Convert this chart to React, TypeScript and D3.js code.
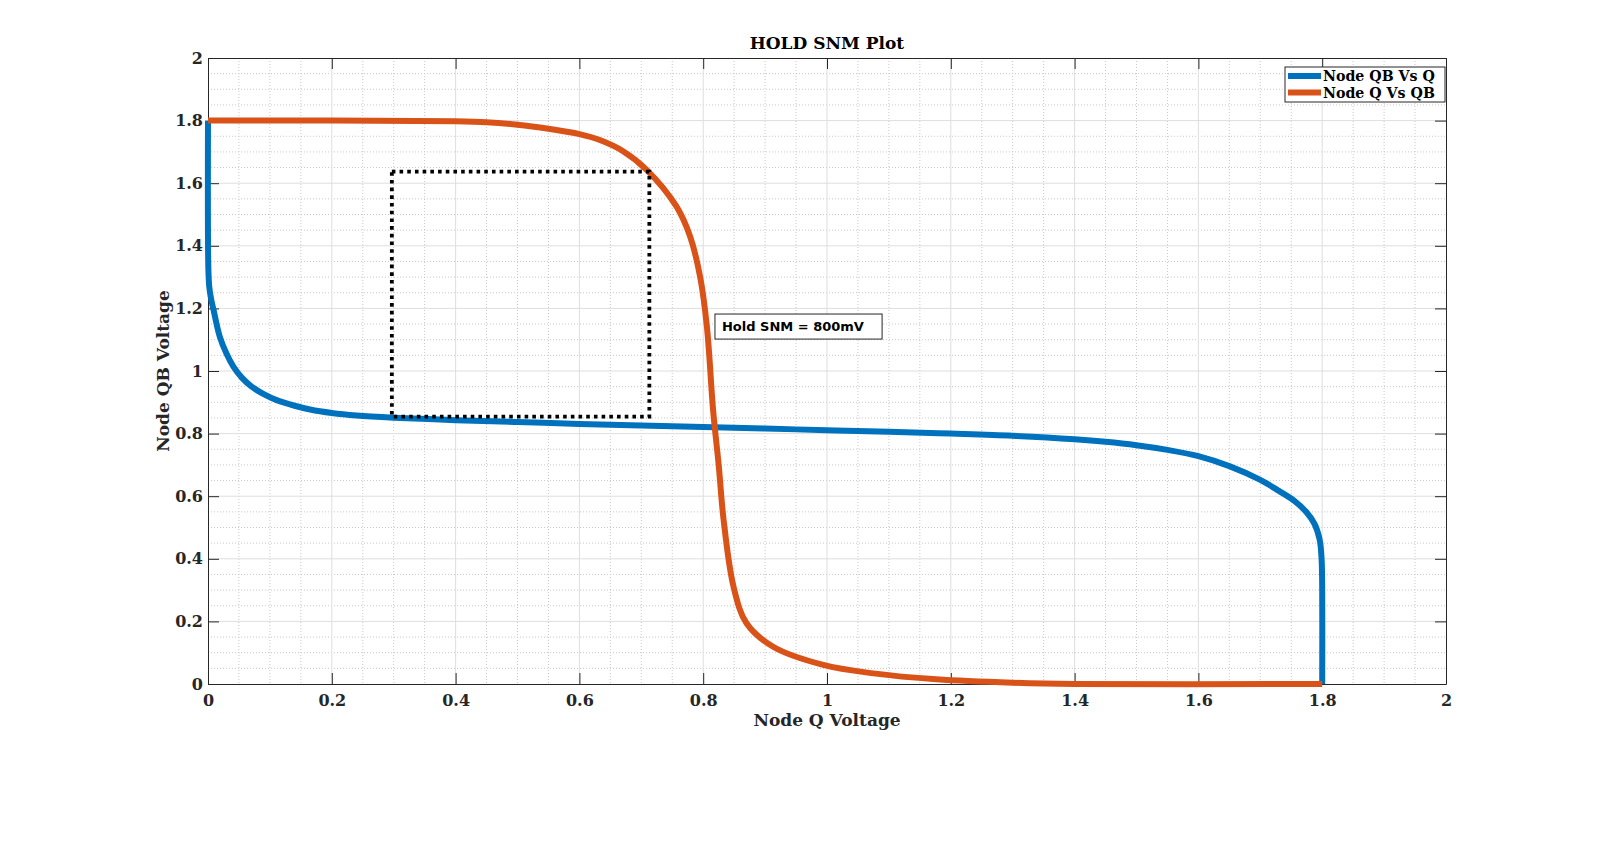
import React from 'react';
import * as d3 from 'd3';

const useD3 = (renderChart: any, dependencies: any[]) => {
  const ref = React.useRef<SVGSVGElement>(null);

  React.useEffect(() => {
    renderChart(d3.select(ref.current));
  }, dependencies);

  return ref;
};

// Node QB vs Q (blue)
const qbVsQ_x = [
  0, 0.0005, 0.002, 0.005, 0.009, 0.019, 0.03, 0.041, 0.055, 0.07, 0.09, 0.111,
  0.14, 0.165, 0.2, 0.24, 0.3, 0.4, 0.5, 0.6, 0.7, 0.8, 0.9, 1.0, 1.1, 1.2, 1.3,
  1.4, 1.45, 1.5, 1.55, 1.6, 1.65, 1.7, 1.73, 1.755, 1.775, 1.788, 1.796, 1.799,
  1.8, 1.8,
];
const qbVsQ_y = [
  1.8, 1.333, 1.27, 1.23, 1.195, 1.11, 1.055, 1.014, 0.978, 0.951, 0.926, 0.907,
  0.889, 0.877, 0.866, 0.858, 0.851, 0.843, 0.837, 0.831, 0.826, 0.821, 0.816,
  0.811, 0.806, 0.8, 0.793, 0.782, 0.774, 0.763, 0.748, 0.728, 0.696, 0.652,
  0.617, 0.585, 0.548, 0.51, 0.46, 0.4, 0.3, 0,
];

// Node Q vs QB (orange)
const qVsQb_x = [
  0, 0.2, 0.4, 0.45, 0.5, 0.55, 0.6, 0.633, 0.67, 0.709, 0.757, 0.779, 0.795,
  0.806, 0.816, 0.825, 0.833, 0.849, 0.87, 0.913, 0.994, 1.075, 1.177, 1.3, 1.4, 1.8,
];
const qVsQb_y = [
  1.8, 1.8, 1.798, 1.795, 1.787, 1.774, 1.757, 1.738, 1.703, 1.642, 1.525, 1.429,
  1.301, 1.141, 0.875, 0.7, 0.524, 0.311, 0.194, 0.119, 0.061, 0.034, 0.015, 0.004,
  0, 0,
];

// SNM square (corners) and annotation
const snmBoxX = [0.297, 0.713];
const snmBoxY = [0.854, 1.637];
const noteX = [0.819, 1.089];
const noteY = [1.182, 1.102];
const noteText = 'Hold SNM = 800mV';

const xTicks = [0, 0.2, 0.4, 0.6, 0.8, 1, 1.2, 1.4, 1.6, 1.8, 2];
const xTickLabels = ['0', '0.2', '0.4', '0.6', '0.8', '1', '1.2', '1.4', '1.6', '1.8', '2'];
const yTicks = xTicks;
const yTickLabels = xTickLabels;
const minorTicks = d3.range(1, 40).map(i => i * 0.05).filter(v => Math.abs(v / 0.2 - Math.round(v / 0.2)) > 1e-6);

const seriesNames = ['Node QB Vs Q', 'Node Q Vs QB'];
const seriesColors = ['#0072BD', '#D95319'];

const serif = 'DejaVu Serif';
const axisColor = '#262626';

const renderChart = (svg: any) => {
  const margin = { top: 58, right: 152, bottom: 168, left: 208 };
  const width = 1598;
  const height = 852;

  const xScale = d3.scaleLinear().domain([0, 2]).range([margin.left, width - margin.right]);
  const yScale = d3.scaleLinear().domain([0, 2]).range([height - margin.bottom, margin.top]);
  const [x0, x1] = xScale.range();
  const [y0, y1] = yScale.range();

  svg.selectAll('*').remove();
  svg.append('rect').attr('width', width).attr('height', height).attr('fill', 'white');

  const grid = svg.append('g');
  // minor grid
  grid.selectAll('.mx').data(minorTicks).join('line')
    .attr('x1', (d: number) => xScale(d)).attr('x2', (d: number) => xScale(d))
    .attr('y1', y1).attr('y2', y0)
    .attr('stroke', '#c8c8c8').attr('stroke-width', 1).attr('stroke-dasharray', '1 2');
  grid.selectAll('.my').data(minorTicks).join('line')
    .attr('y1', (d: number) => yScale(d)).attr('y2', (d: number) => yScale(d))
    .attr('x1', x0).attr('x2', x1)
    .attr('stroke', '#c8c8c8').attr('stroke-width', 1).attr('stroke-dasharray', '1 2');
  // major grid
  grid.selectAll('.gx').data(xTicks.slice(1, -1)).join('line')
    .attr('x1', (d: number) => xScale(d)).attr('x2', (d: number) => xScale(d))
    .attr('y1', y1).attr('y2', y0)
    .attr('stroke', '#dedede').attr('stroke-width', 1);
  grid.selectAll('.gy').data(yTicks.slice(1, -1)).join('line')
    .attr('y1', (d: number) => yScale(d)).attr('y2', (d: number) => yScale(d))
    .attr('x1', x0).attr('x2', x1)
    .attr('stroke', '#dedede').attr('stroke-width', 1);

  // axes
  const tickSize = 11;
  const axisStyle = (g: any) => {
    g.select('.domain').attr('stroke', axisColor);
    g.selectAll('.tick line').attr('stroke', axisColor);
    g.selectAll('.tick text')
      .attr('fill', axisColor)
      .attr('font-family', serif)
      .attr('font-weight', 'bold')
      .attr('font-size', 16);
  };
  svg.append('g').attr('transform', `translate(0, ${y0})`)
    .call(d3.axisBottom(xScale).tickValues(xTicks).tickSize(-tickSize).tickSizeOuter(0).tickPadding(11)
      .tickFormat((_: any, i: number) => xTickLabels[i]))
    .call(axisStyle);
  svg.append('g').attr('transform', `translate(0, ${y1})`)
    .call(d3.axisTop(xScale).tickValues(xTicks).tickSize(-tickSize).tickSizeOuter(0).tickFormat(() => ''))
    .call(axisStyle);
  svg.append('g').attr('transform', `translate(${x0}, 0)`)
    .call(d3.axisLeft(yScale).tickValues(yTicks).tickSize(-tickSize).tickSizeOuter(0).tickPadding(5)
      .tickFormat((_: any, i: number) => yTickLabels[i]))
    .call(axisStyle);
  svg.append('g').attr('transform', `translate(${x1}, 0)`)
    .call(d3.axisRight(yScale).tickValues(yTicks).tickSize(-tickSize).tickSizeOuter(0).tickFormat(() => ''))
    .call(axisStyle);
  svg.selectAll('.tick text').attr('font-family', serif).attr('font-weight', 'bold');

  // curves
  const line = d3.line<[number, number]>()
    .x(d => xScale(d[0]))
    .y(d => yScale(d[1]))
    .curve(d3.curveCatmullRom.alpha(0.5));

  const blue = qbVsQ_x.map((x, i) => [x, qbVsQ_y[i]] as [number, number]);
  const orange = qVsQb_x.map((x, i) => [x, qVsQb_y[i]] as [number, number]);

  [blue, orange].forEach((pts, i) => {
    svg.append('path')
      .attr('d', line(pts))
      .attr('fill', 'none')
      .attr('stroke', seriesColors[i])
      .attr('stroke-width', 6)
      .attr('stroke-linejoin', 'round');
  });

  // SNM square
  svg.append('rect')
    .attr('x', xScale(snmBoxX[0]))
    .attr('y', yScale(snmBoxY[1]))
    .attr('width', xScale(snmBoxX[1]) - xScale(snmBoxX[0]))
    .attr('height', yScale(snmBoxY[0]) - yScale(snmBoxY[1]))
    .attr('fill', 'none')
    .attr('stroke', 'black')
    .attr('stroke-width', 3.8)
    .attr('stroke-dasharray', '3.6 4.1');

  // annotation
  const nx = xScale(noteX[0]);
  const ny = yScale(noteY[0]);
  svg.append('rect')
    .attr('x', nx).attr('y', ny)
    .attr('width', xScale(noteX[1]) - nx)
    .attr('height', yScale(noteY[1]) - ny)
    .attr('fill', 'white').attr('stroke', axisColor).attr('stroke-width', 1);
  svg.append('text')
    .attr('x', nx + 7).attr('y', (ny + yScale(noteY[1])) / 2 + 4.5)
    .attr('font-family', 'DejaVu Sans').attr('font-weight', 'bold').attr('font-size', 13)
    .attr('fill', 'black')
    .text(noteText);

  // legend
  const lg = svg.append('g').attr('transform', `translate(${x1 - 161}, ${y1 + 9})`);
  lg.append('rect').attr('width', 160).attr('height', 35)
    .attr('fill', 'white').attr('stroke', axisColor).attr('stroke-width', 1);
  seriesNames.forEach((name, i) => {
    const yy = 9 + i * 16.6;
    lg.append('line').attr('x1', 3).attr('x2', 36).attr('y1', yy).attr('y2', yy)
      .attr('stroke', seriesColors[i]).attr('stroke-width', 6);
    lg.append('text').attr('x', 38).attr('y', yy + 5)
      .attr('font-family', serif).attr('font-weight', 'bold').attr('font-size', 14.2)
      .attr('fill', 'black').text(name);
  });

  // title & axis labels
  svg.append('text')
    .attr('x', (x0 + x1) / 2).attr('y', y1 - 9)
    .attr('text-anchor', 'middle')
    .attr('font-family', serif).attr('font-weight', 'bold').attr('font-size', 17)
    .attr('fill', 'black').text('HOLD SNM Plot');
  svg.append('text')
    .attr('x', (x0 + x1) / 2).attr('y', y0 + 42)
    .attr('text-anchor', 'middle')
    .attr('font-family', serif).attr('font-weight', 'bold').attr('font-size', 17)
    .attr('fill', axisColor).text('Node Q Voltage');
  svg.append('text')
    .attr('transform', `translate(${x0 - 39}, ${(y0 + y1) / 2}) rotate(-90)`)
    .attr('text-anchor', 'middle')
    .attr('font-family', serif).attr('font-weight', 'bold').attr('font-size', 17)
    .attr('fill', axisColor).text('Node QB Voltage');
};

const App: React.FC = () => {
  const ref = useD3(renderChart, []);

  return (
    <svg
      ref={ref}
      width={1598}
      height={852}
      style={{ position: 'absolute', left: 0, top: 0, display: 'block' }}
    />
  );
};

export default App;
